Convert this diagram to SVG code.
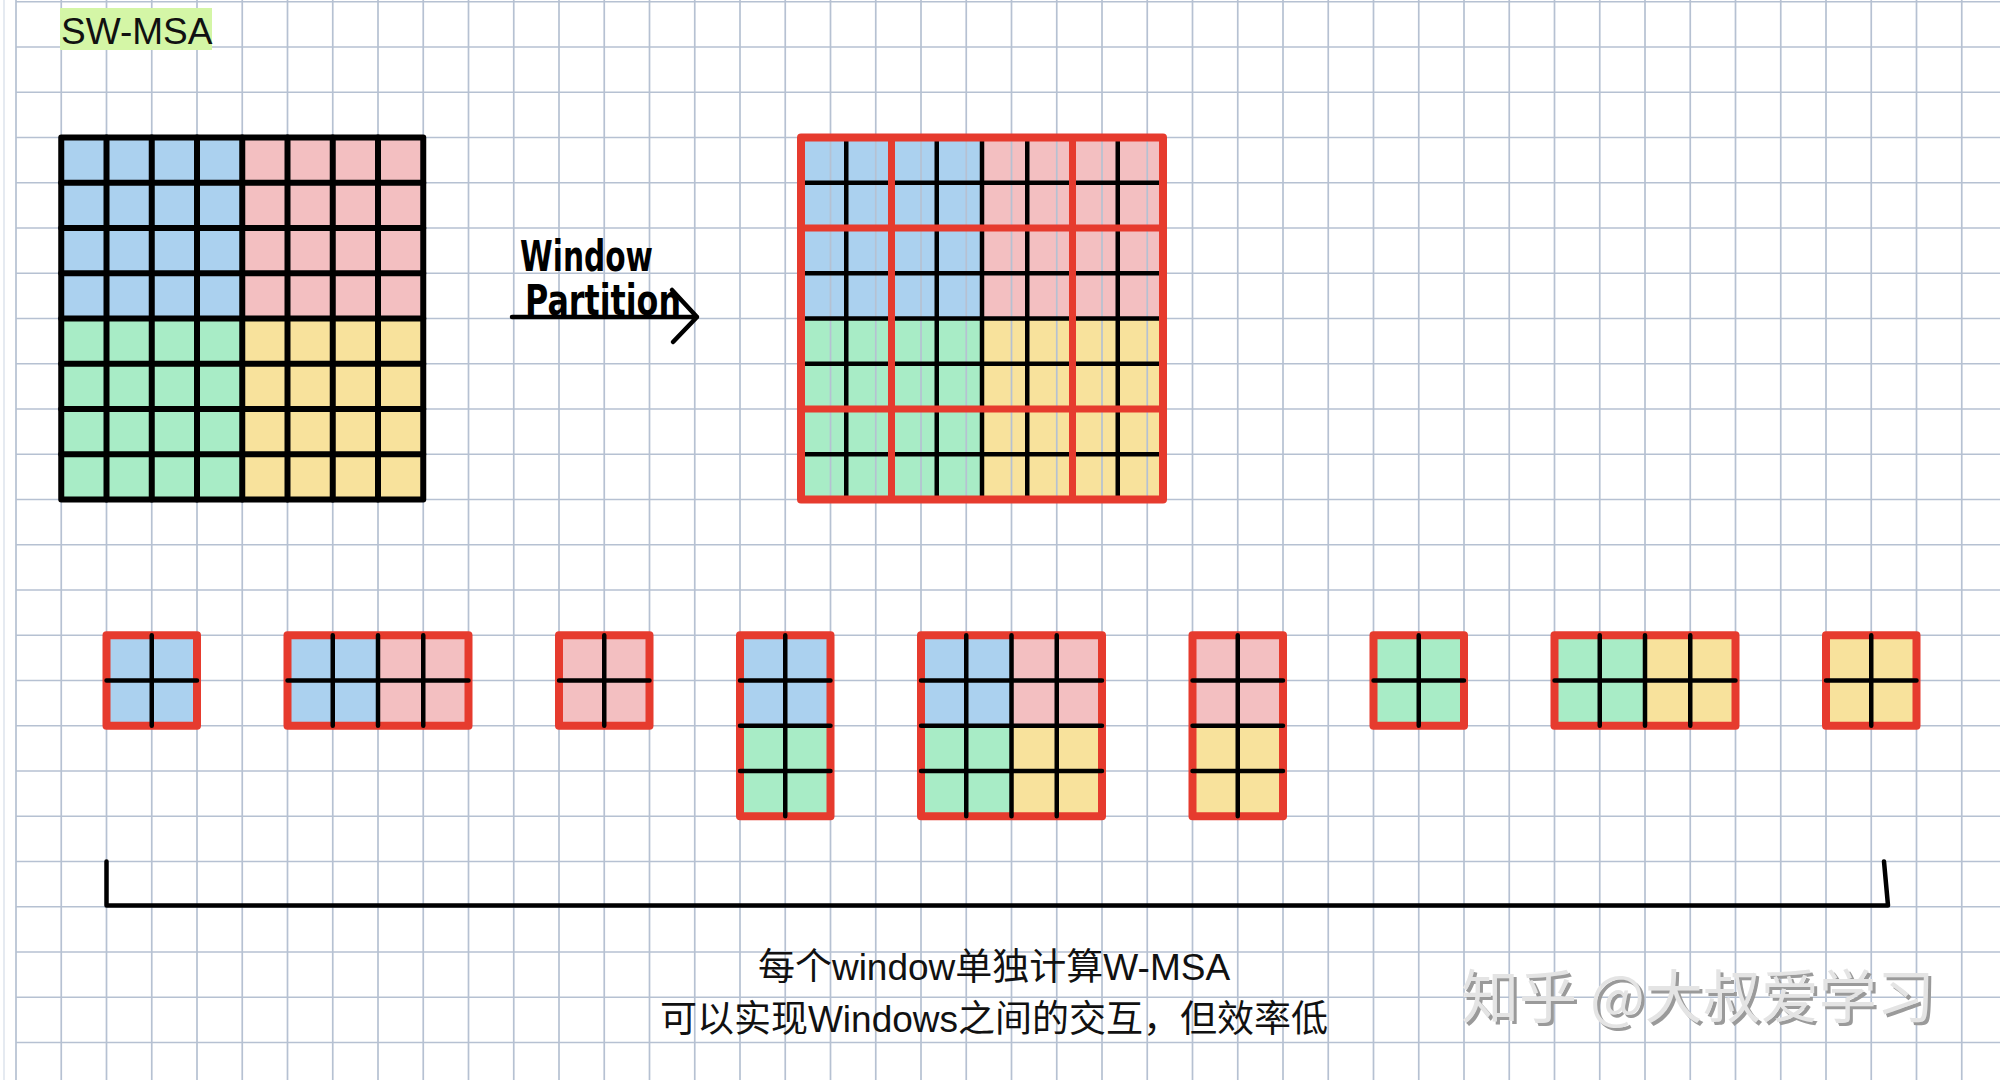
<svg xmlns="http://www.w3.org/2000/svg" width="2000" height="1080" viewBox="0 0 2000 1080">
<defs>
<style>
.bg{fill:#ffffff}
.grid{fill:none;stroke:#b6c1d2;stroke-width:1.7}
.blue{fill:#abd1ef}
.pink{fill:#f3bfc1}
.green{fill:#a8ecc6}
.yellow{fill:#f8e29c}
.blk{fill:none;stroke:#000;stroke-width:6;stroke-linecap:round;stroke-linejoin:round}
.blk4{fill:none;stroke:#000;stroke-width:4.5;stroke-linecap:round;stroke-linejoin:round}
.red{fill:none;stroke:#e63b2e;stroke-width:8;stroke-linecap:round;stroke-linejoin:round}
.redin{fill:none;stroke:#e63b2e;stroke-width:7;stroke-linecap:butt}
.txt{font-family:"Liberation Sans","Noto Sans CJK SC",sans-serif;fill:#111}
.hand{font-family:"DejaVu Sans",sans-serif;font-weight:bold;fill:#000}
.wm{font-family:"Noto Sans CJK SC",sans-serif;font-size:58px}
</style>
</defs>
<rect class="bg" x="0" y="0" width="2000" height="1080"/>
<line x1="4" y1="0" x2="4" y2="1080" stroke="#dde3ec" stroke-width="1.5"/>

<g id="fills">
<rect class="blue" x="61.25" y="137.5" width="181" height="181"/>
<rect class="pink" x="242.25" y="137.5" width="181" height="181"/>
<rect class="green" x="61.25" y="318.5" width="181" height="181"/>
<rect class="yellow" x="242.25" y="318.5" width="181" height="181"/>
<rect class="blue" x="801" y="137.5" width="181" height="181"/>
<rect class="pink" x="982" y="137.5" width="181" height="181"/>
<rect class="green" x="801" y="318.5" width="181" height="181"/>
<rect class="yellow" x="982" y="318.5" width="181" height="181"/>
<rect class="blue" x="106.5" y="635.25" width="90.5" height="90.5"/>
<rect class="blue" x="287.5" y="635.25" width="90.5" height="90.5"/>
<rect class="pink" x="378" y="635.25" width="90.5" height="90.5"/>
<rect class="pink" x="559" y="635.25" width="90.5" height="90.5"/>
<rect class="blue" x="740" y="635.25" width="90.5" height="90.5"/>
<rect class="green" x="740" y="725.75" width="90.5" height="90.5"/>
<rect class="blue" x="921" y="635.25" width="90.5" height="90.5"/>
<rect class="pink" x="1011.5" y="635.25" width="90.5" height="90.5"/>
<rect class="green" x="921" y="725.75" width="90.5" height="90.5"/>
<rect class="yellow" x="1011.5" y="725.75" width="90.5" height="90.5"/>
<rect class="pink" x="1192.5" y="635.25" width="90.5" height="90.5"/>
<rect class="yellow" x="1192.5" y="725.75" width="90.5" height="90.5"/>
<rect class="green" x="1373.5" y="635.25" width="90.5" height="90.5"/>
<rect class="green" x="1554.5" y="635.25" width="90.5" height="90.5"/>
<rect class="yellow" x="1645" y="635.25" width="90.5" height="90.5"/>
<rect class="yellow" x="1826" y="635.25" width="90.5" height="90.5"/>
</g>

<path class="grid" d="M16,0V1080M61.25,0V1080M106.5,0V1080M151.75,0V1080M197,0V1080M242.25,0V1080M287.5,0V1080M332.75,0V1080M378,0V1080M423.25,0V1080M468.5,0V1080M513.75,0V1080M559,0V1080M604.25,0V1080M649.5,0V1080M694.75,0V1080M740,0V1080M785.25,0V1080M830.5,0V1080M875.75,0V1080M921,0V1080M966.25,0V1080M1011.5,0V1080M1056.75,0V1080M1102,0V1080M1147.25,0V1080M1192.5,0V1080M1237.75,0V1080M1283,0V1080M1328.25,0V1080M1373.5,0V1080M1418.75,0V1080M1464,0V1080M1509.25,0V1080M1554.5,0V1080M1599.75,0V1080M1645,0V1080M1690.25,0V1080M1735.5,0V1080M1780.75,0V1080M1826,0V1080M1871.25,0V1080M1916.5,0V1080M1961.75,0V1080M16,1.75H2000M16,47H2000M16,92.25H2000M16,137.5H2000M16,182.75H2000M16,228H2000M16,273.25H2000M16,318.5H2000M16,363.75H2000M16,409H2000M16,454.25H2000M16,499.5H2000M16,544.75H2000M16,590H2000M16,635.25H2000M16,680.5H2000M16,725.75H2000M16,771H2000M16,816.25H2000M16,861.5H2000M16,906.75H2000M16,952H2000M16,997.25H2000M16,1042.5H2000"/>

<g id="title">
<rect x="60" y="8" width="152" height="42" fill="#d4f6a6"/>
<text class="txt" x="61" y="44" font-size="37">SW-MSA</text>
</g>

<g id="input-grid">
<path class="blk" d="M61.25,182.75H423.25M61.25,228H423.25M61.25,273.25H423.25M61.25,318.5H423.25M61.25,363.75H423.25M61.25,409H423.25M61.25,454.25H423.25M106.5,137.5V499.5M151.75,137.5V499.5M197,137.5V499.5M242.25,137.5V499.5M287.5,137.5V499.5M332.75,137.5V499.5M378,137.5V499.5"/>
<rect class="blk" x="61.25" y="137.5" width="362" height="362"/>
</g>

<g id="partition-label">
<text class="hand" x="520" y="271" font-size="42" textLength="133" lengthAdjust="spacingAndGlyphs">Window</text>
<text class="hand" x="525" y="315" font-size="42" textLength="156" lengthAdjust="spacingAndGlyphs">Partition</text>
</g>

<g id="partitioned-grid">
<path class="blk4" d="M801,182.75H1163M801,273.25H1163M801,318.5H1163M801,363.75H1163M801,454.25H1163M846.25,137.5V499.5M936.75,137.5V499.5M982,137.5V499.5M1027.25,137.5V499.5M1117.75,137.5V499.5"/>
<path class="redin" d="M801,228H1163M801,409H1163M891.5,137.5V499.5M1072.5,137.5V499.5"/>
<rect class="red" x="801" y="137.5" width="362" height="362"/>
</g>

<g id="win1">
<rect class="red" x="106.5" y="635.25" width="90.5" height="90.5"/>
<path class="blk4" d="M151.75,635.25V725.75M106.5,680.5H197"/>
</g>
<g id="win2">
<rect class="red" x="287.5" y="635.25" width="181" height="90.5"/>
<path class="blk4" d="M332.75,635.25V725.75M378,635.25V725.75M423.25,635.25V725.75M287.5,680.5H468.5"/>
</g>
<g id="win3">
<rect class="red" x="559" y="635.25" width="90.5" height="90.5"/>
<path class="blk4" d="M604.25,635.25V725.75M559,680.5H649.5"/>
</g>
<g id="win4">
<rect class="red" x="740" y="635.25" width="90.5" height="181"/>
<path class="blk4" d="M785.25,635.25V816.25M740,680.5H830.5M740,725.75H830.5M740,771H830.5"/>
</g>
<g id="win5">
<rect class="red" x="921" y="635.25" width="181" height="181"/>
<path class="blk4" d="M966.25,635.25V816.25M1011.5,635.25V816.25M1056.75,635.25V816.25M921,680.5H1102M921,725.75H1102M921,771H1102"/>
</g>
<g id="win6">
<rect class="red" x="1192.5" y="635.25" width="90.5" height="181"/>
<path class="blk4" d="M1237.75,635.25V816.25M1192.5,680.5H1283M1192.5,725.75H1283M1192.5,771H1283"/>
</g>
<g id="win7">
<rect class="red" x="1373.5" y="635.25" width="90.5" height="90.5"/>
<path class="blk4" d="M1418.75,635.25V725.75M1373.5,680.5H1464"/>
</g>
<g id="win8">
<rect class="red" x="1554.5" y="635.25" width="181" height="90.5"/>
<path class="blk4" d="M1599.75,635.25V725.75M1645,635.25V725.75M1690.25,635.25V725.75M1554.5,680.5H1735.5"/>
</g>
<g id="win9">
<rect class="red" x="1826" y="635.25" width="90.5" height="90.5"/>
<path class="blk4" d="M1871.25,635.25V725.75M1826,680.5H1916.5"/>
</g>

<g id="connectors">
<path class="blk4" d="M512,317H697M672,290L697,317L673,342"/>
<path class="blk4" d="M106.5,861.5V905.5H1888L1884,861.5"/>
</g>

<g id="caption">
<text class="txt" x="994" y="980" font-size="37" text-anchor="middle">每个window单独计算W-MSA</text>
<text class="txt" x="994" y="1032" font-size="37" text-anchor="middle">可以实现Windows之间的交互，但效率低</text>
</g>

<g id="watermark">
<text class="wm" x="1464" y="1021" fill="#9a9a9a">知乎 @大叔爱学习</text>
<text class="wm" x="1461" y="1018" fill="#e4e4e4">知乎 @大叔爱学习</text>
</g>
</svg>
